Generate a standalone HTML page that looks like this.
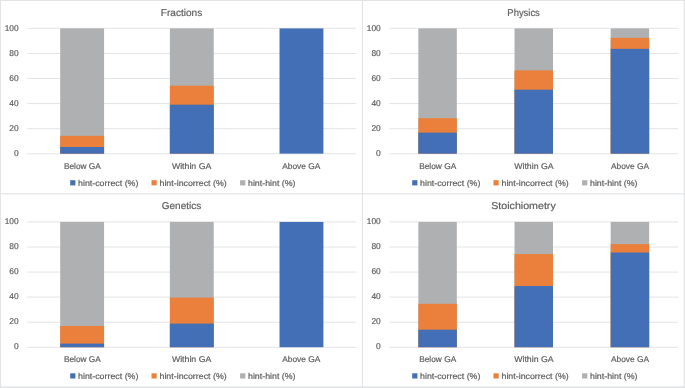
<!DOCTYPE html>
<html><head><meta charset="utf-8"><title>Charts</title>
<style>html,body{margin:0;padding:0;background:#fff;}svg{display:block;}svg text{stroke:#5c5c5c;stroke-width:0.18px;}</style></head>
<body>
<svg width="685" height="388" viewBox="0 0 685 388" font-family="'Liberation Sans', Arial, sans-serif" fill="#5c5c5c" text-rendering="geometricPrecision">
<rect x="0" y="0" width="685" height="388" fill="#ffffff" stroke="none"/>
<line x1="27.3" x2="356.3" y1="153.8" y2="153.8" stroke="#e3e4e5" stroke-width="1"/>
<text x="18.6" y="156.2" font-size="8.4" text-anchor="end" textLength="4.7" lengthAdjust="spacingAndGlyphs">0</text>
<line x1="27.3" x2="356.3" y1="128.7" y2="128.7" stroke="#e3e4e5" stroke-width="1"/>
<text x="18.6" y="131.2" font-size="8.4" text-anchor="end" textLength="9.3" lengthAdjust="spacingAndGlyphs">20</text>
<line x1="27.3" x2="356.3" y1="103.6" y2="103.6" stroke="#e3e4e5" stroke-width="1"/>
<text x="18.6" y="106.1" font-size="8.4" text-anchor="end" textLength="9.3" lengthAdjust="spacingAndGlyphs">40</text>
<line x1="27.3" x2="356.3" y1="78.5" y2="78.5" stroke="#e3e4e5" stroke-width="1"/>
<text x="18.6" y="81.0" font-size="8.4" text-anchor="end" textLength="9.3" lengthAdjust="spacingAndGlyphs">60</text>
<line x1="27.3" x2="356.3" y1="53.4" y2="53.4" stroke="#e3e4e5" stroke-width="1"/>
<text x="18.6" y="55.9" font-size="8.4" text-anchor="end" textLength="9.3" lengthAdjust="spacingAndGlyphs">80</text>
<line x1="27.3" x2="356.3" y1="28.3" y2="28.3" stroke="#e3e4e5" stroke-width="1"/>
<text x="18.6" y="30.8" font-size="8.4" text-anchor="end" textLength="13.9" lengthAdjust="spacingAndGlyphs">100</text>
<text x="181.5" y="15.8" font-size="9.9" text-anchor="middle" textLength="41.5" lengthAdjust="spacingAndGlyphs">Fractions</text>
<rect x="60.20" y="28.40" width="43.87" height="125.25" fill="#AFB0B2"/>
<rect x="60.20" y="135.85" width="43.87" height="17.80" fill="#EA803B"/>
<rect x="60.20" y="147.00" width="43.87" height="6.65" fill="#426FB5"/>
<text x="82.4" y="169.3" font-size="8.4" text-anchor="middle" textLength="37.0" lengthAdjust="spacingAndGlyphs">Below GA</text>
<rect x="169.87" y="28.40" width="43.87" height="125.25" fill="#AFB0B2"/>
<rect x="169.87" y="85.70" width="43.87" height="67.95" fill="#EA803B"/>
<rect x="169.87" y="104.70" width="43.87" height="48.95" fill="#426FB5"/>
<text x="191.6" y="169.3" font-size="8.4" text-anchor="middle" textLength="39.4" lengthAdjust="spacingAndGlyphs">Within GA</text>
<rect x="279.53" y="28.40" width="43.87" height="125.25" fill="#426FB5"/>
<text x="301.3" y="169.3" font-size="8.4" text-anchor="middle" textLength="38.2" lengthAdjust="spacingAndGlyphs">Above GA</text>
<rect x="70.2" y="180.2" width="5.2" height="5.2" fill="#426FB5"/>
<text x="78.0" y="185.6" font-size="8.4" textLength="60.4" lengthAdjust="spacingAndGlyphs">hint-correct (%)</text>
<rect x="151.5" y="180.2" width="5.2" height="5.2" fill="#EA803B"/>
<text x="159.5" y="185.6" font-size="8.4" textLength="67.2" lengthAdjust="spacingAndGlyphs">hint-incorrect (%)</text>
<rect x="240.1" y="180.2" width="5.2" height="5.2" fill="#AFB0B2"/>
<text x="248.0" y="185.6" font-size="8.4" textLength="47.5" lengthAdjust="spacingAndGlyphs">hint-hint (%)</text>
<line x1="389.5" x2="678" y1="153.8" y2="153.8" stroke="#e3e4e5" stroke-width="1"/>
<text x="380.7" y="156.2" font-size="8.4" text-anchor="end" textLength="4.7" lengthAdjust="spacingAndGlyphs">0</text>
<line x1="389.5" x2="678" y1="128.7" y2="128.7" stroke="#e3e4e5" stroke-width="1"/>
<text x="380.7" y="131.2" font-size="8.4" text-anchor="end" textLength="9.3" lengthAdjust="spacingAndGlyphs">20</text>
<line x1="389.5" x2="678" y1="103.6" y2="103.6" stroke="#e3e4e5" stroke-width="1"/>
<text x="380.7" y="106.1" font-size="8.4" text-anchor="end" textLength="9.3" lengthAdjust="spacingAndGlyphs">40</text>
<line x1="389.5" x2="678" y1="78.5" y2="78.5" stroke="#e3e4e5" stroke-width="1"/>
<text x="380.7" y="81.0" font-size="8.4" text-anchor="end" textLength="9.3" lengthAdjust="spacingAndGlyphs">60</text>
<line x1="389.5" x2="678" y1="53.4" y2="53.4" stroke="#e3e4e5" stroke-width="1"/>
<text x="380.7" y="55.9" font-size="8.4" text-anchor="end" textLength="9.3" lengthAdjust="spacingAndGlyphs">80</text>
<line x1="389.5" x2="678" y1="28.3" y2="28.3" stroke="#e3e4e5" stroke-width="1"/>
<text x="380.7" y="30.8" font-size="8.4" text-anchor="end" textLength="13.9" lengthAdjust="spacingAndGlyphs">100</text>
<text x="523.6" y="15.8" font-size="9.9" text-anchor="middle" textLength="32.5" lengthAdjust="spacingAndGlyphs">Physics</text>
<rect x="418.35" y="28.40" width="38.47" height="125.25" fill="#AFB0B2"/>
<rect x="418.35" y="118.20" width="38.47" height="35.45" fill="#EA803B"/>
<rect x="418.35" y="132.60" width="38.47" height="21.05" fill="#426FB5"/>
<text x="437.7" y="169.3" font-size="8.4" text-anchor="middle" textLength="37.0" lengthAdjust="spacingAndGlyphs">Below GA</text>
<rect x="514.52" y="28.40" width="38.47" height="125.25" fill="#AFB0B2"/>
<rect x="514.52" y="70.35" width="38.47" height="83.30" fill="#EA803B"/>
<rect x="514.52" y="89.70" width="38.47" height="63.95" fill="#426FB5"/>
<text x="533.9" y="169.3" font-size="8.4" text-anchor="middle" textLength="39.4" lengthAdjust="spacingAndGlyphs">Within GA</text>
<rect x="610.68" y="28.40" width="38.47" height="125.25" fill="#AFB0B2"/>
<rect x="610.68" y="37.85" width="38.47" height="115.80" fill="#EA803B"/>
<rect x="610.68" y="48.85" width="38.47" height="104.80" fill="#426FB5"/>
<text x="630.0" y="169.3" font-size="8.4" text-anchor="middle" textLength="38.2" lengthAdjust="spacingAndGlyphs">Above GA</text>
<rect x="412.2" y="180.2" width="5.2" height="5.2" fill="#426FB5"/>
<text x="420.0" y="185.6" font-size="8.4" textLength="60.4" lengthAdjust="spacingAndGlyphs">hint-correct (%)</text>
<rect x="493.5" y="180.2" width="5.2" height="5.2" fill="#EA803B"/>
<text x="501.5" y="185.6" font-size="8.4" textLength="67.2" lengthAdjust="spacingAndGlyphs">hint-incorrect (%)</text>
<rect x="582.1" y="180.2" width="5.2" height="5.2" fill="#AFB0B2"/>
<text x="590.0" y="185.6" font-size="8.4" textLength="47.5" lengthAdjust="spacingAndGlyphs">hint-hint (%)</text>
<line x1="27.3" x2="356.3" y1="347.3" y2="347.3" stroke="#e3e4e5" stroke-width="1"/>
<text x="18.6" y="349.4" font-size="8.4" text-anchor="end" textLength="4.7" lengthAdjust="spacingAndGlyphs">0</text>
<line x1="27.3" x2="356.3" y1="322.2" y2="322.2" stroke="#e3e4e5" stroke-width="1"/>
<text x="18.6" y="324.3" font-size="8.4" text-anchor="end" textLength="9.3" lengthAdjust="spacingAndGlyphs">20</text>
<line x1="27.3" x2="356.3" y1="297.1" y2="297.1" stroke="#e3e4e5" stroke-width="1"/>
<text x="18.6" y="299.2" font-size="8.4" text-anchor="end" textLength="9.3" lengthAdjust="spacingAndGlyphs">40</text>
<line x1="27.3" x2="356.3" y1="272.1" y2="272.1" stroke="#e3e4e5" stroke-width="1"/>
<text x="18.6" y="274.1" font-size="8.4" text-anchor="end" textLength="9.3" lengthAdjust="spacingAndGlyphs">60</text>
<line x1="27.3" x2="356.3" y1="247.0" y2="247.0" stroke="#e3e4e5" stroke-width="1"/>
<text x="18.6" y="249.0" font-size="8.4" text-anchor="end" textLength="9.3" lengthAdjust="spacingAndGlyphs">80</text>
<line x1="27.3" x2="356.3" y1="221.9" y2="221.9" stroke="#e3e4e5" stroke-width="1"/>
<text x="18.6" y="223.9" font-size="8.4" text-anchor="end" textLength="13.9" lengthAdjust="spacingAndGlyphs">100</text>
<text x="181.5" y="208.9" font-size="9.9" text-anchor="middle" textLength="39.5" lengthAdjust="spacingAndGlyphs">Genetics</text>
<rect x="60.20" y="221.95" width="43.87" height="125.25" fill="#AFB0B2"/>
<rect x="60.20" y="326.00" width="43.87" height="21.20" fill="#EA803B"/>
<rect x="60.20" y="343.60" width="43.87" height="3.60" fill="#426FB5"/>
<text x="82.4" y="362.4" font-size="8.4" text-anchor="middle" textLength="37.0" lengthAdjust="spacingAndGlyphs">Below GA</text>
<rect x="169.87" y="221.95" width="43.87" height="125.25" fill="#AFB0B2"/>
<rect x="169.87" y="297.60" width="43.87" height="49.60" fill="#EA803B"/>
<rect x="169.87" y="323.60" width="43.87" height="23.60" fill="#426FB5"/>
<text x="191.6" y="362.4" font-size="8.4" text-anchor="middle" textLength="39.4" lengthAdjust="spacingAndGlyphs">Within GA</text>
<rect x="279.53" y="221.95" width="43.87" height="125.25" fill="#426FB5"/>
<text x="301.3" y="362.4" font-size="8.4" text-anchor="middle" textLength="38.2" lengthAdjust="spacingAndGlyphs">Above GA</text>
<rect x="70.2" y="373.29999999999995" width="5.2" height="5.2" fill="#426FB5"/>
<text x="78.0" y="378.7" font-size="8.4" textLength="60.4" lengthAdjust="spacingAndGlyphs">hint-correct (%)</text>
<rect x="151.5" y="373.29999999999995" width="5.2" height="5.2" fill="#EA803B"/>
<text x="159.5" y="378.7" font-size="8.4" textLength="67.2" lengthAdjust="spacingAndGlyphs">hint-incorrect (%)</text>
<rect x="240.1" y="373.29999999999995" width="5.2" height="5.2" fill="#AFB0B2"/>
<text x="248.0" y="378.7" font-size="8.4" textLength="47.5" lengthAdjust="spacingAndGlyphs">hint-hint (%)</text>
<line x1="389.5" x2="678" y1="347.3" y2="347.3" stroke="#e3e4e5" stroke-width="1"/>
<text x="380.7" y="349.4" font-size="8.4" text-anchor="end" textLength="4.7" lengthAdjust="spacingAndGlyphs">0</text>
<line x1="389.5" x2="678" y1="322.2" y2="322.2" stroke="#e3e4e5" stroke-width="1"/>
<text x="380.7" y="324.3" font-size="8.4" text-anchor="end" textLength="9.3" lengthAdjust="spacingAndGlyphs">20</text>
<line x1="389.5" x2="678" y1="297.1" y2="297.1" stroke="#e3e4e5" stroke-width="1"/>
<text x="380.7" y="299.2" font-size="8.4" text-anchor="end" textLength="9.3" lengthAdjust="spacingAndGlyphs">40</text>
<line x1="389.5" x2="678" y1="272.1" y2="272.1" stroke="#e3e4e5" stroke-width="1"/>
<text x="380.7" y="274.1" font-size="8.4" text-anchor="end" textLength="9.3" lengthAdjust="spacingAndGlyphs">60</text>
<line x1="389.5" x2="678" y1="247.0" y2="247.0" stroke="#e3e4e5" stroke-width="1"/>
<text x="380.7" y="249.0" font-size="8.4" text-anchor="end" textLength="9.3" lengthAdjust="spacingAndGlyphs">80</text>
<line x1="389.5" x2="678" y1="221.9" y2="221.9" stroke="#e3e4e5" stroke-width="1"/>
<text x="380.7" y="223.9" font-size="8.4" text-anchor="end" textLength="13.9" lengthAdjust="spacingAndGlyphs">100</text>
<text x="523.5" y="208.9" font-size="9.9" text-anchor="middle" textLength="64.5" lengthAdjust="spacingAndGlyphs">Stoichiometry</text>
<rect x="418.35" y="221.95" width="38.47" height="125.25" fill="#AFB0B2"/>
<rect x="418.35" y="303.80" width="38.47" height="43.40" fill="#EA803B"/>
<rect x="418.35" y="329.70" width="38.47" height="17.50" fill="#426FB5"/>
<text x="437.7" y="362.4" font-size="8.4" text-anchor="middle" textLength="37.0" lengthAdjust="spacingAndGlyphs">Below GA</text>
<rect x="514.52" y="221.95" width="38.47" height="125.25" fill="#AFB0B2"/>
<rect x="514.52" y="254.10" width="38.47" height="93.10" fill="#EA803B"/>
<rect x="514.52" y="286.00" width="38.47" height="61.20" fill="#426FB5"/>
<text x="533.9" y="362.4" font-size="8.4" text-anchor="middle" textLength="39.4" lengthAdjust="spacingAndGlyphs">Within GA</text>
<rect x="610.68" y="221.95" width="38.47" height="125.25" fill="#AFB0B2"/>
<rect x="610.68" y="244.10" width="38.47" height="103.10" fill="#EA803B"/>
<rect x="610.68" y="252.50" width="38.47" height="94.70" fill="#426FB5"/>
<text x="630.0" y="362.4" font-size="8.4" text-anchor="middle" textLength="38.2" lengthAdjust="spacingAndGlyphs">Above GA</text>
<rect x="412.2" y="373.29999999999995" width="5.2" height="5.2" fill="#426FB5"/>
<text x="420.0" y="378.7" font-size="8.4" textLength="60.4" lengthAdjust="spacingAndGlyphs">hint-correct (%)</text>
<rect x="493.5" y="373.29999999999995" width="5.2" height="5.2" fill="#EA803B"/>
<text x="501.5" y="378.7" font-size="8.4" textLength="67.2" lengthAdjust="spacingAndGlyphs">hint-incorrect (%)</text>
<rect x="582.1" y="373.29999999999995" width="5.2" height="5.2" fill="#AFB0B2"/>
<text x="590.0" y="378.7" font-size="8.4" textLength="47.5" lengthAdjust="spacingAndGlyphs">hint-hint (%)</text>
<rect x="0" y="0" width="685" height="1" fill="#e2e4e5"/>
<rect x="0" y="0" width="1" height="388" fill="#e2e4e5"/>
<rect x="683.7" y="0" width="1.3" height="388" fill="#e2e4e5"/>
<rect x="0" y="386.4" width="685" height="1.6" fill="#e2e4e5"/>
<rect x="0" y="193.15" width="685" height="1.3" fill="#e5e7e9"/>
<rect x="361.9" y="0" width="1.1" height="388" fill="#e1e3e6"/>
</svg>
</body></html>
